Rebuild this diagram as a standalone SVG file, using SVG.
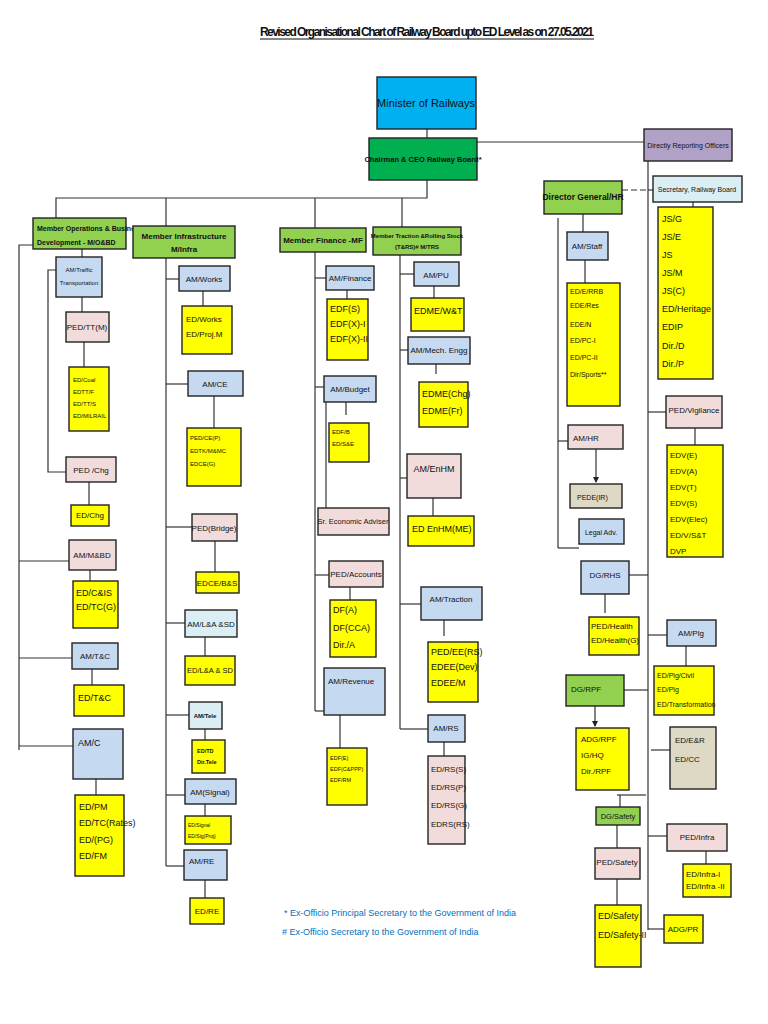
<svg xmlns="http://www.w3.org/2000/svg" width="768" height="1024" viewBox="0 0 768 1024">
<defs>
<marker id="ar" viewBox="0 0 6 6" refX="5" refY="3" markerWidth="5" markerHeight="5" orient="auto"><path d="M0,0L6,3L0,6z" fill="#222"/></marker>
</defs>
<style>
rect{stroke:#222;stroke-width:1.4}
.b{fill:#C5D9F1}.p{fill:#F2DCDB}.y{fill:#FFFF00}.g{fill:#92D050}.lb{fill:#DAEEF3}.k{fill:#DDD9C4}
text{font-family:"Liberation Sans Narrow","Liberation Sans",Arial,sans-serif;font-size:8px;fill:#111}
.s{font-size:6px}.m{font-size:9px}.t{font-weight:bold}
#connectors line,#connectors polyline{stroke:#333;stroke-width:1.2;fill:none}
.fn{fill:#0070C0;font-size:9px}
</style>
<rect width="768" height="1024" fill="#fff" style="stroke:none"/>
<text x="427" y="36" text-anchor="middle" class="t" style="font-size:12px" textLength="334">Revised Organisational Chart of Railway Board upto ED Level as on 27.05.2021</text>
<line x1="260" y1="39" x2="594" y2="39" stroke="#111" stroke-width="1"/>

<g id="connectors">
<line x1="427" y1="129" x2="427" y2="138"/>
<line x1="477" y1="142" x2="644" y2="142"/>
<polyline points="427,180 427,198 56,198 56,218"/>
<line x1="166" y1="198" x2="166" y2="226"/>
<line x1="315" y1="198" x2="315" y2="228"/>
<line x1="402" y1="198" x2="402" y2="227"/>
<!-- MOBD -->
<polyline points="33,245 19,245 19,750"/>
<line x1="19" y1="561" x2="69" y2="561"/>
<line x1="19" y1="658" x2="72" y2="658"/>
<line x1="19" y1="746" x2="73" y2="746"/>
<line x1="82" y1="249" x2="82" y2="257"/>
<polyline points="56,270 48,270 48,472 66,472"/>
<line x1="82" y1="297" x2="82" y2="312"/>
<line x1="84" y1="342" x2="84" y2="367"/>
<line x1="89" y1="482" x2="89" y2="505"/>
<line x1="90" y1="570" x2="90" y2="581"/>
<line x1="92" y1="669" x2="92" y2="685"/>
<line x1="96" y1="779" x2="96" y2="795"/>
<!-- Infra -->
<line x1="166" y1="258" x2="166" y2="866"/>
<line x1="166" y1="279" x2="179" y2="279"/>
<line x1="166" y1="384" x2="188" y2="384"/>
<line x1="166" y1="527" x2="192" y2="527"/>
<line x1="166" y1="623" x2="185" y2="623"/>
<line x1="166" y1="715" x2="189" y2="715"/>
<line x1="166" y1="795" x2="185" y2="795"/>
<line x1="166" y1="866" x2="184" y2="866"/>
<line x1="203" y1="291" x2="203" y2="306"/>
<line x1="214" y1="396" x2="214" y2="428"/>
<line x1="215" y1="541" x2="215" y2="572"/>
<line x1="205" y1="637" x2="205" y2="656"/>
<line x1="205" y1="729" x2="205" y2="740"/>
<line x1="205" y1="804" x2="205" y2="816"/>
<line x1="205" y1="880" x2="205" y2="898"/>
<!-- Finance -->
<line x1="315" y1="252" x2="315" y2="711"/>
<line x1="315" y1="278" x2="326" y2="278"/>
<line x1="315" y1="387" x2="324" y2="387"/>
<line x1="315" y1="575" x2="329" y2="575"/>
<line x1="315" y1="711" x2="324" y2="711"/>
<line x1="347" y1="290" x2="347" y2="299"/>
<line x1="346" y1="402" x2="346" y2="415"/>
<line x1="326" y1="402" x2="326" y2="508"/>
<line x1="350" y1="587" x2="350" y2="600"/>
<line x1="340" y1="715" x2="340" y2="748"/>
<!-- Traction -->
<line x1="400" y1="255" x2="400" y2="729"/>
<line x1="400" y1="274" x2="414" y2="274"/>
<line x1="400" y1="350" x2="408" y2="350"/>
<line x1="400" y1="478" x2="407" y2="478"/>
<line x1="400" y1="604" x2="421" y2="604"/>
<line x1="400" y1="729" x2="428" y2="729"/>
<line x1="434" y1="286" x2="434" y2="298"/>
<line x1="436" y1="364" x2="436" y2="374"/>
<line x1="433" y1="498" x2="433" y2="516"/>
<line x1="444" y1="620" x2="444" y2="636"/>
<line x1="444" y1="742" x2="444" y2="756"/>
<!-- DG/HR -->
<line x1="622" y1="190" x2="648" y2="190" stroke-dasharray="6,3"/>
<line x1="648" y1="190" x2="653" y2="190"/>
<line x1="583" y1="214" x2="583" y2="232"/>
<line x1="558" y1="218" x2="558" y2="548"/>
<line x1="558" y1="548" x2="579" y2="548"/>
<line x1="558" y1="441" x2="568" y2="441"/>
<line x1="585" y1="260" x2="585" y2="283"/>
<line x1="596" y1="449" x2="596" y2="482" marker-end="url(#ar)"/>
<!-- DRO -->
<line x1="648" y1="161" x2="648" y2="930"/>
<line x1="693" y1="202" x2="693" y2="207"/>
<line x1="648" y1="412" x2="666" y2="412"/>
<line x1="695" y1="428" x2="695" y2="445"/>
<line x1="629" y1="575" x2="648" y2="575"/>
<line x1="605" y1="594" x2="605" y2="613"/>
<line x1="648" y1="635" x2="667" y2="635"/>
<line x1="686" y1="646" x2="686" y2="666"/>
<line x1="624" y1="690" x2="648" y2="690"/>
<line x1="595" y1="706" x2="595" y2="726" marker-end="url(#ar)"/>
<line x1="651" y1="750" x2="670" y2="750"/>
<line x1="617" y1="795" x2="646" y2="795"/>
<line x1="620" y1="795" x2="620" y2="807"/>
<line x1="617" y1="825" x2="617" y2="848"/>
<line x1="617" y1="879" x2="617" y2="905"/>
<line x1="648" y1="836" x2="667" y2="836"/>
<line x1="706" y1="851" x2="706" y2="864"/>
<line x1="648" y1="929" x2="664" y2="929"/>
</g>

<g id="minister"><rect x="377" y="77" width="99" height="52" fill="#00B0F0"/><text x="426" y="107" text-anchor="middle" style="font-size:11px">Minister of Railways</text></g>
<g id="chairman"><rect x="369" y="138" width="108" height="42" fill="#00B050"/><text x="423" y="162" text-anchor="middle" class="t" style="font-size:7.5px">Chairman &amp; CEO Railway Board*</text></g>
<g id="dro"><rect x="644" y="129" width="88" height="32" fill="#B2A1C7"/><text x="688" y="148" text-anchor="middle" class="s" style="font-size:7px">Directly Reporting Officers</text></g>

<g id="mobd"><rect x="33" y="218" width="93" height="31" class="g"/><text x="37" y="231" class="t" style="font-size:7px">Member Operations &amp; Business</text><text x="37" y="245" class="t" style="font-size:7px">Development - M/O&amp;BD</text></g>
<g id="minfra"><rect x="133" y="226" width="102" height="32" class="g"/><text x="184" y="239" text-anchor="middle" class="t" style="font-size:8px">Member Infrastructure</text><text x="184" y="252" text-anchor="middle" class="t" style="font-size:8px">M/Infra</text></g>
<g id="mf"><rect x="280" y="228" width="86" height="24" class="g"/><text x="323" y="243" text-anchor="middle" class="t" style="font-size:8px">Member Finance -MF</text></g>
<g id="mtrs"><rect x="373" y="227" width="88" height="28" class="g"/><text x="417" y="238" text-anchor="middle" class="t" style="font-size:6px">Member Traction &amp;Rolling Stock</text><text x="417" y="249" text-anchor="middle" class="t" style="font-size:6px">(T&amp;RS)# M/TRS</text></g>

<!-- MOBD children -->
<g id="amtraffic"><rect x="56" y="257" width="46" height="40" class="b"/><text x="79" y="272" text-anchor="middle" class="s">AM/Traffic</text><text x="79" y="285" text-anchor="middle" class="s">Transportation</text></g>
<g id="pedttm"><rect x="66" y="312" width="43" height="30" class="p"/><text x="87" y="330" text-anchor="middle">PED/TT(M)</text></g>
<g id="edcoal"><rect x="69" y="367" width="40" height="64" class="y"/><text x="73" y="382" class="s">ED/Coal</text><text x="73" y="394" class="s">EDTT/F</text><text x="73" y="406" class="s">ED/TT/S</text><text x="73" y="418" class="s">ED/MILRAIL</text></g>
<g id="pedchg"><rect x="66" y="457" width="50" height="25" class="p"/><text x="91" y="473" text-anchor="middle">PED /Chg</text></g>
<g id="edchg"><rect x="71" y="505" width="38" height="21" class="y"/><text x="90" y="518" text-anchor="middle">ED/Chg</text></g>
<g id="ammbd"><rect x="69" y="540" width="47" height="30" class="p"/><text x="92" y="558" text-anchor="middle">AM/M&amp;BD</text></g>
<g id="edcis"><rect x="73" y="581" width="45" height="47" class="y"/><text x="76" y="596" class="m">ED/C&amp;IS</text><text x="76" y="610" class="m">ED/TC(G)</text></g>
<g id="amtc"><rect x="72" y="643" width="46" height="26" class="b"/><text x="95" y="659" text-anchor="middle">AM/T&amp;C</text></g>
<g id="edtc"><rect x="74" y="685" width="50" height="31" class="y"/><text x="78" y="701" class="m">ED/T&amp;C</text></g>
<g id="amc"><rect x="73" y="729" width="50" height="50" class="b"/><text x="78" y="746" class="m">AM/C</text></g>
<g id="edpm"><rect x="75" y="795" width="49" height="81" class="y"/><text x="79" y="810" class="m">ED/PM</text><text x="79" y="826" class="m">ED/TC(Rates)</text><text x="79" y="843" class="m">ED/(PG)</text><text x="79" y="859" class="m">ED/FM</text></g>

<!-- Infra children -->
<g id="amworks"><rect x="179" y="266" width="51" height="25" class="b"/><text x="204" y="282" text-anchor="middle">AM/Works</text></g>
<g id="edworks"><rect x="182" y="306" width="50" height="48" class="y"/><text x="186" y="322">ED/Works</text><text x="186" y="337">ED/Proj.M</text></g>
<g id="amce"><rect x="188" y="371" width="55" height="25" class="b"/><text x="215" y="387" text-anchor="middle">AM/CE</text></g>
<g id="pedcep"><rect x="187" y="428" width="54" height="58" class="y"/><text x="190" y="440" class="s">PED/CE(P)</text><text x="190" y="453" class="s">EDTK/M&amp;MC</text><text x="190" y="466" class="s">EDCE(G)</text></g>
<g id="pedbridge"><rect x="192" y="514" width="45" height="27" class="p"/><text x="214" y="531" text-anchor="middle">PED(Bridge)</text></g>
<g id="edcebs"><rect x="196" y="572" width="43" height="21" class="y"/><text x="217" y="586" text-anchor="middle">EDCE/B&amp;S</text></g>
<g id="amla"><rect x="185" y="610" width="52" height="27" class="lb"/><text x="211" y="627" text-anchor="middle">AM/L&amp;A &amp;SD</text></g>
<g id="edla"><rect x="185" y="656" width="50" height="29" class="y"/><text x="210" y="673" text-anchor="middle" style="font-size:7.5px">ED/L&amp;A &amp; SD</text></g>
<g id="amtele"><rect x="189" y="702" width="33" height="27" class="lb"/><text x="205" y="718" text-anchor="middle" class="s t">AM/Tele</text></g>
<g id="edtd"><rect x="192" y="740" width="33" height="33" class="y"/><text x="197" y="753" class="s t" style="font-size:5.5px">ED/TD</text><text x="197" y="764" class="s t" style="font-size:5.5px">Dir.Tele</text></g>
<g id="amsignal"><rect x="185" y="779" width="51" height="25" class="b"/><text x="210" y="795" text-anchor="middle">AM(Signal)</text></g>
<g id="edsignal"><rect x="185" y="816" width="46" height="28" class="y"/><text x="188" y="827" class="s" style="font-size:5px">ED/Signal</text><text x="188" y="838" class="s" style="font-size:5px">ED/Sig(Proj)</text></g>
<g id="amre"><rect x="184" y="850" width="43" height="30" class="b"/><text x="189" y="864">AM/RE</text></g>
<g id="edre"><rect x="190" y="898" width="34" height="26" class="y"/><text x="207" y="914" text-anchor="middle">ED/RE</text></g>

<!-- Finance children -->
<g id="amfinance"><rect x="326" y="266" width="48" height="24" class="b"/><text x="350" y="281" text-anchor="middle">AM/Finance</text></g>
<g id="edfs"><rect x="327" y="299" width="41" height="61" class="y"/><text x="330" y="312" class="m">EDF(S)</text><text x="330" y="327" class="m">EDF(X)-I</text><text x="330" y="342" class="m">EDF(X)-II</text></g>
<g id="ambudget"><rect x="324" y="376" width="52" height="26" class="b"/><text x="350" y="392" text-anchor="middle">AM/Budget</text></g>
<g id="edfb"><rect x="329" y="423" width="40" height="39" class="y"/><text x="332" y="434" class="s">EDF/B</text><text x="332" y="446" class="s">ED/S&amp;E</text></g>
<g id="sea"><rect x="318" y="508" width="71" height="27" class="p"/><text x="353" y="524" text-anchor="middle" style="font-size:7.5px">Sr. Economic Adviser</text></g>
<g id="pedaccounts"><rect x="329" y="561" width="54" height="26" class="p"/><text x="356" y="577" text-anchor="middle">PED/Accounts</text></g>
<g id="dfa"><rect x="330" y="600" width="46" height="57" class="y"/><text x="333" y="613" class="m">DF(A)</text><text x="333" y="631" class="m">DF(CCA)</text><text x="333" y="648" class="m">Dir./A</text></g>
<g id="amrevenue"><rect x="324" y="668" width="61" height="47" class="b"/><text x="328" y="684">AM/Revenue</text></g>
<g id="edfe"><rect x="327" y="748" width="40" height="57" class="y"/><text x="330" y="760" class="s" style="font-size:5.5px">EDF(E)</text><text x="330" y="771" class="s" style="font-size:5.5px">EDF(C&amp;PPP)</text><text x="330" y="782" class="s" style="font-size:5.5px">EDF/RM</text></g>

<!-- Traction children -->
<g id="ampu"><rect x="414" y="262" width="45" height="24" class="b"/><text x="436" y="278" text-anchor="middle">AM/PU</text></g>
<g id="edmewt"><rect x="411" y="298" width="53" height="33" class="y"/><text x="414" y="314" class="m">EDME/W&amp;T</text></g>
<g id="ammech"><rect x="408" y="337" width="62" height="27" class="b"/><text x="439" y="353" text-anchor="middle">AM/Mech. Engg</text></g>
<g id="edmechg"><rect x="419" y="382" width="49" height="45" class="y"/><text x="422" y="397" class="m">EDME(Chg)</text><text x="422" y="414" class="m">EDME(Fr)</text></g>
<g id="amenhm"><rect x="407" y="454" width="54" height="44" class="p"/><text x="434" y="472" text-anchor="middle" class="m">AM/EnHM</text></g>
<g id="edenhm"><rect x="408" y="516" width="66" height="30" class="y"/><text x="412" y="532" class="m">ED EnHM(ME)</text></g>
<g id="amtraction"><rect x="421" y="587" width="61" height="33" class="b"/><text x="451" y="602" text-anchor="middle">AM/Traction</text></g>
<g id="pedeers"><rect x="428" y="642" width="50" height="60" class="y"/><text x="431" y="655" class="m">PED/EE(RS)</text><text x="431" y="670" class="m">EDEE(Dev)</text><text x="431" y="686" class="m">EDEE/M</text></g>
<g id="amrs"><rect x="428" y="715" width="37" height="27" class="b"/><text x="446" y="731" text-anchor="middle">AM/RS</text></g>
<g id="edrss"><rect x="428" y="756" width="37" height="88" class="p"/><text x="431" y="772">ED/RS(S)</text><text x="431" y="790">ED/RS(P)</text><text x="431" y="808">ED/RS(G)</text><text x="431" y="827">EDRS(RS)</text></g>

<!-- DG/HR -->
<g id="dghr"><rect x="544" y="181" width="78" height="33" class="g"/><text x="583" y="200" text-anchor="middle" class="t" style="font-size:8.5px">Director General/HR</text></g>
<g id="amstaff"><rect x="567" y="232" width="41" height="28" class="b"/><text x="587" y="249" text-anchor="middle">AM/Staff</text></g>
<g id="ederrb"><rect x="567" y="283" width="53" height="123" class="y"/><text x="570" y="294" style="font-size:7px">ED/E/RRB</text><text x="570" y="308" style="font-size:7px">EDE/Res</text><text x="570" y="327" style="font-size:7px">EDE/N</text><text x="570" y="343" style="font-size:7px">ED/PC-I</text><text x="570" y="360" style="font-size:7px">ED/PC-II</text><text x="570" y="377" style="font-size:7px">Dir/Sports**</text></g>
<g id="amhr"><rect x="568" y="425" width="55" height="24" class="p"/><text x="573" y="441">AM/HR</text></g>
<g id="pedeir"><rect x="570" y="484" width="52" height="24" class="k"/><text x="577" y="500" style="font-size:7px">PEDE(IR)</text></g>
<g id="legaladv"><rect x="579" y="519" width="45" height="25" class="b"/><text x="601" y="535" text-anchor="middle" style="font-size:7px">Legal Adv.</text></g>

<!-- DRO children -->
<g id="secretary"><rect x="653" y="176" width="89" height="26" class="lb"/><text x="697" y="192" text-anchor="middle" style="font-size:7px">Secretary, Railway Board</text></g>
<g id="jsg"><rect x="658" y="207" width="55" height="172" class="y"/><text x="662" y="222" class="m">JS/G</text><text x="662" y="240" class="m">JS/E</text><text x="662" y="258" class="m">JS</text><text x="662" y="276" class="m">JS/M</text><text x="662" y="294" class="m">JS(C)</text><text x="662" y="312" class="m">ED/Heritage</text><text x="662" y="330" class="m">EDIP</text><text x="662" y="349" class="m">Dir./D</text><text x="662" y="367" class="m">Dir./P</text></g>
<g id="pedvig"><rect x="666" y="396" width="56" height="32" class="p"/><text x="694" y="413" text-anchor="middle">PED/Vigilance</text></g>
<g id="edv"><rect x="667" y="445" width="56" height="112" class="y"/><text x="670" y="458">EDV(E)</text><text x="670" y="474">EDV(A)</text><text x="670" y="490">EDV(T)</text><text x="670" y="506">EDV(S)</text><text x="670" y="522">EDV(Elec)</text><text x="670" y="538">ED/V/S&amp;T</text><text x="670" y="554">DVP</text></g>
<g id="dgrhs"><rect x="581" y="561" width="48" height="33" class="b"/><text x="605" y="578" text-anchor="middle">DG/RHS</text></g>
<g id="pedhealth"><rect x="589" y="617" width="50" height="38" class="y"/><text x="591" y="629">PED/Health</text><text x="591" y="643">ED/Health(G)</text></g>
<g id="amplg"><rect x="667" y="620" width="49" height="26" class="b"/><text x="691" y="636" text-anchor="middle">AM/Plg</text></g>
<g id="edplg"><rect x="654" y="666" width="60" height="49" class="y"/><text x="657" y="678" style="font-size:7px">ED/Plg/Civil</text><text x="657" y="692" style="font-size:7px">ED/Plg</text><text x="657" y="707" style="font-size:7px">ED/Transformation</text></g>
<g id="dgrpf"><rect x="566" y="675" width="58" height="31" class="g"/><text x="571" y="692">DG/RPF</text></g>
<g id="adgrpf"><rect x="576" y="728" width="53" height="62" class="y"/><text x="581" y="742">ADG/RPF</text><text x="581" y="758">IG/HQ</text><text x="581" y="774">Dir./RPF</text></g>
<g id="eder"><rect x="670" y="727" width="46" height="62" class="k"/><text x="675" y="743">ED/E&amp;R</text><text x="675" y="762">ED/CC</text></g>
<g id="dgsafety"><rect x="596" y="807" width="44" height="18" class="g"/><text x="618" y="819" text-anchor="middle" style="font-size:7.5px">DG/Safety</text></g>
<g id="pedsafety"><rect x="595" y="848" width="45" height="31" class="p"/><text x="617" y="865" text-anchor="middle">PED/Safety</text></g>
<g id="edsafety"><rect x="595" y="905" width="46" height="62" class="y"/><text x="598" y="919" class="m">ED/Safety</text><text x="598" y="938" class="m">ED/Safety-II</text></g>
<g id="pedinfra"><rect x="667" y="824" width="60" height="27" class="p"/><text x="697" y="840" text-anchor="middle">PED/Infra</text></g>
<g id="edinfra"><rect x="683" y="864" width="48" height="33" class="y"/><text x="686" y="877">ED/Infra-I</text><text x="686" y="889">ED/Infra -II</text></g>
<g id="adgpr"><rect x="664" y="915" width="39" height="28" class="y"/><text x="683" y="932" text-anchor="middle">ADG/PR</text></g>

<g id="notes"><text x="284" y="916" class="fn">*  Ex-Officio Principal Secretary to the Government of India</text><text x="282" y="935" class="fn"># Ex-Officio Secretary to the Government of India</text></g>
</svg>
